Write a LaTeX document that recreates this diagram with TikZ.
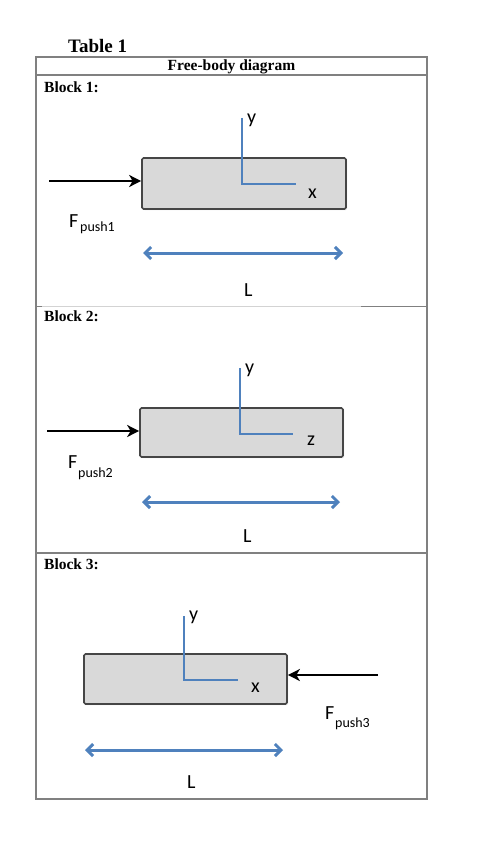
\documentclass[tikz,border=0pt]{standalone}
\usepackage{fontspec}
\setmainfont{Liberation Serif}
\newfontfamily\lab{Carlito}
\usetikzlibrary{arrows.meta,shadows}
\definecolor{axblue}{RGB}{79,129,189}
\definecolor{tblgray}{RGB}{128,128,128}
\definecolor{boxfill}{RGB}{217,217,217}
\definecolor{boxedge}{RGB}{70,70,70}
\tikzset{
  tline/.style={draw=tblgray, line width=1.4pt},
  tlight/.style={draw=tblgray!35, line width=1.2pt},
  blockbox/.style={draw=boxedge, fill=boxfill, line width=1.7pt, rounded corners=1.5pt,
     drop shadow={opacity=0.25, shadow xshift=1.2pt, shadow yshift=-1.2pt}, inner sep=0pt},
  axis/.style={draw=axblue, line width=2.7pt},
  force/.style={draw=black, line width=2.3pt, -{Stealth[length=12pt,width=12pt,inset=3.5pt]}},
  dimarrow/.style={draw=axblue, line width=3pt, {Straight Barb[length=6pt,width=12pt]}-{Straight Barb[length=6pt,width=12pt]}},
  lbl/.style={font=\lab\fontsize{20}{22}\selectfont, anchor=base west, inner sep=0pt},
  sub/.style={font=\lab\fontsize{14}{16}\selectfont, anchor=base west, inner sep=0pt},
  hdr/.style={font=\bfseries\fontsize{15.5}{17}\selectfont, inner sep=0pt},
}
\begin{document}
\begin{tikzpicture}[x=1pt,y=-1pt]
\useasboundingbox (0,0) rectangle (490,856);
% table
\node[font=\bfseries\fontsize{19}{21}\selectfont, anchor=base west, inner sep=0pt] (title) at (68,53) {Table 1};
\node[hdr, anchor=base] (head) at (231.5,71) {Free-body diagram};
\draw[tline] (36,57) rectangle (427,799);
\draw[tline] (36,75) -- (427,75);
\draw[tlight] (42,306.5) -- (361,306.5);
\draw[tline] (36,306.5) -- (42,306.5);
\draw[tline] (361,306.5) -- (427,306.5);
\draw[tline] (36,553) -- (427,553);
\node[hdr, anchor=base west] (bl1) at (44,93) {Block 1:};
\node[hdr, anchor=base west] (bl2) at (44,321.5) {Block 2:};
\node[hdr, anchor=base west] (bl3) at (44,569) {Block 3:};

% ---- Block 1
\node[blockbox, minimum width=204pt, minimum height=51pt] (b1) at (244,183.5) {};
\coordinate (o1) at (242,184);
\coordinate (y1) at (242,118);
\coordinate (x1) at (296,184);
\draw[axis] (y1) -- (o1) -- (x1);
\node[lbl] (ly1) at (247,124) {y};
\node[lbl] (lx1) at (308,198) {x};
\coordinate (f1) at (49,181);
\draw[force] (f1) -- (f1 -| b1.west);
\node[lbl] (F1) at (69,227) {F};
\node[sub] (s1) at (80,231.5) {push1};
\coordinate (l1a) at (143,253);
\coordinate (l1b) at (343,253);
\draw[dimarrow] (l1a) -- (l1b);
\node[lbl] (L1) at (244,296) {L};

% ---- Block 2
\node[blockbox, minimum width=203pt, minimum height=49pt] (b2) at (241.5,432.5) {};
\coordinate (o2) at (240,434);
\coordinate (y2) at (240,368);
\coordinate (x2) at (293,434);
\draw[axis] (y2) -- (o2) -- (x2);
\node[lbl] (ly2) at (245,373) {y};
\node[lbl] (lz2) at (307,445) {z};
\coordinate (f2) at (47,431);
\draw[force] (f2) -- (f2 -| b2.west);
\node[lbl] (F2) at (68,468) {F};
\node[sub] (s2) at (78,477) {push2};
\coordinate (l2a) at (142,502);
\coordinate (l2b) at (340,502);
\draw[dimarrow] (l2a) -- (l2b);
\node[lbl] (L2) at (243,542) {L};

% ---- Block 3
\node[blockbox, minimum width=203pt, minimum height=50pt] (b3) at (185.5,679) {};
\coordinate (o3) at (184,680);
\coordinate (y3) at (184,616);
\coordinate (x3) at (238,680);
\draw[axis] (y3) -- (o3) -- (x3);
\node[lbl] (ly3) at (189,620) {y};
\node[lbl] (lx3) at (251,692) {x};
\coordinate (f3) at (378,675);
\draw[force] (f3) -- (f3 -| b3.east);
\node[lbl] (F3) at (325,719) {F};
\node[sub] (s3) at (335,727) {push3};
\coordinate (l3a) at (85,750);
\coordinate (l3b) at (283,750);
\draw[dimarrow] (l3a) -- (l3b);
\node[lbl] (L3) at (187,788) {L};
\end{tikzpicture}
\end{document}
